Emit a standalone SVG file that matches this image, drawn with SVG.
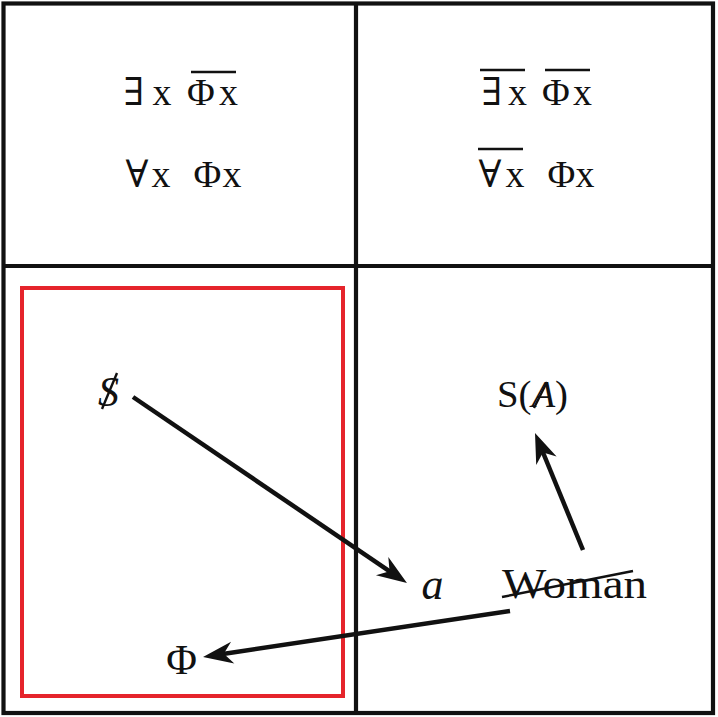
<svg xmlns="http://www.w3.org/2000/svg" width="718" height="717" viewBox="0 0 718 717">
<style>
.grid{fill:none;stroke:#111;stroke-width:4.2}
.f{font-family:"Liberation Serif","Times New Roman","DejaVu Serif",serif;fill:#111}
.top{font-size:38px}
.big{font-size:42px}
.bar{stroke:#111;stroke-width:2.4;fill:none}
.arr{stroke:#111;stroke-width:4.5;fill:none;marker-end:url(#ah)}
</style>
<defs>
<marker id="ah" markerUnits="userSpaceOnUse" viewBox="-32 -12 34 24" markerWidth="34" markerHeight="24" refX="-20" refY="0" orient="auto">
<path d="M0,0 L-30,-11 L-21,0 L-30,11 Z" fill="#111"/>
</marker>
</defs>
<rect width="718" height="717" fill="#fff"/>
<g id="grid">
<rect class="grid" x="3.5" y="3.5" width="709.5" height="709.5"/>
<line class="grid" x1="356" y1="3.5" x2="356" y2="713"/>
<line class="grid" x1="3.5" y1="266" x2="713" y2="266"/>
</g>
<rect id="highlight" x="22" y="288" width="321" height="408" fill="none" stroke="#e5242b" stroke-width="4"/>
<g id="man-formulas">
<text class="f top" text-anchor="middle" x="133.5 162" y="105">∃x</text>
<text class="f top" text-anchor="middle" x="201 228.5" y="105">Φx</text>
<line class="bar" x1="191" y1="72" x2="236" y2="72"/>
<text class="f top" text-anchor="middle" x="137 161" y="187">∀x</text>
<text class="f top" text-anchor="middle" x="207.5 232" y="187">Φx</text>
</g>
<g id="woman-formulas">
<line class="bar" x1="480" y1="70" x2="525" y2="70"/>
<text class="f top" text-anchor="middle" x="491.5 517.5" y="105">∃x</text>
<line class="bar" x1="545" y1="70" x2="590" y2="70"/>
<text class="f top" text-anchor="middle" x="556 582.5" y="105">Φx</text>
<line class="bar" x1="478" y1="149" x2="523" y2="149"/>
<text class="f top" text-anchor="middle" x="490 515" y="187">∀x</text>
<text class="f top" text-anchor="middle" x="561.5 585" y="187">Φx</text>
</g>
<g id="barred-S">
<text class="f big" font-style="italic" text-anchor="middle" x="108.5" y="406">S</text>
<line class="bar" x1="117" y1="373" x2="102" y2="409"/>
</g>
<g id="phi">
<text class="f big" text-anchor="middle" x="181.5" y="674">Φ</text>
</g>
<g id="object-a">
<text class="f" font-size="44" font-style="italic" text-anchor="middle" x="432.5" y="599">a</text>
</g>
<g id="woman">
<text class="f" font-size="43" x="502" y="598" textLength="145" lengthAdjust="spacingAndGlyphs">Woman</text>
<line class="bar" x1="502" y1="597" x2="633" y2="571"/>
</g>
<g id="S-of-barred-A">
<text class="f" font-size="38" x="497" y="407" textLength="71" lengthAdjust="spacingAndGlyphs">S(<tspan font-style="italic">A</tspan>)</text>
<line class="bar" x1="547" y1="382" x2="534" y2="408"/>
</g>
<g id="connectors">
<line class="arr" x1="133" y1="397" x2="390.4" y2="571.8"/>
<line class="arr" x1="583" y1="550" x2="542.6" y2="451.5"/>
<line class="arr" x1="510" y1="611" x2="222.8" y2="654"/>
</g>
</svg>
